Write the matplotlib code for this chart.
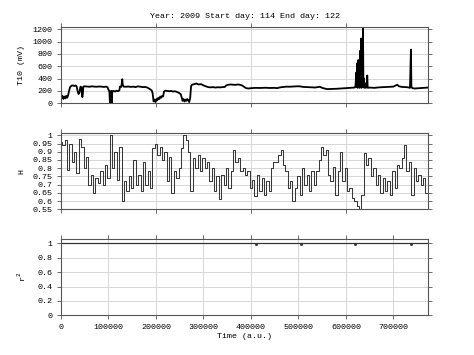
import numpy as np
import matplotlib
matplotlib.use("Agg")
import matplotlib.pyplot as plt

plt.rcParams["font.family"] = ["Liberation Mono", "DejaVu Sans Mono"]
plt.rcParams["font.size"] = 6

# T10 signal (time in units of 1000, value in mV)
t10_time = [0, 1, 3, 5, 7, 9, 11, 13, 15, 17, 19, 22, 25, 28, 31, 33, 35, 37, 39, 41,
            43, 44, 45, 46, 47, 50, 55, 60, 65, 70, 75, 80, 85, 90, 95, 98, 100, 102, 103, 104,
            106, 107, 108, 111, 114, 117, 120, 123, 124, 127, 129, 130, 132, 137, 142, 147, 152, 157, 162, 167,
            172, 177, 182, 185, 188, 191, 193, 195, 197, 199, 201, 203, 205, 207, 209, 211, 213, 215, 217, 220,
            224, 228, 232, 236, 240, 244, 248, 252, 254, 256, 258, 260, 262, 264, 266, 268, 270, 272, 274, 276,
            280, 285, 290, 295, 300, 305, 310, 315, 320, 325, 330, 335, 340, 345, 348, 352, 357, 362, 367, 372,
            377, 381, 385, 390, 395, 400, 410, 420, 430, 440, 450, 455, 460, 465, 470, 475, 480, 490, 500, 505,
            510, 520, 530, 535, 540, 545, 550, 555, 560, 570, 580, 590, 600, 610, 618, 620, 622, 623, 624, 625,
            626, 627, 628, 629, 630, 631, 632, 633, 634, 635, 636, 637, 638, 639, 640, 642, 644, 645, 646, 650,
            660, 670, 680, 690, 700, 705, 708, 712, 718, 725, 730, 735, 737, 738, 740, 745, 755, 765, 773]
t10_value = [230, 80, 120, 70, 110, 80, 120, 90, 130, 200, 260, 285, 290, 280, 290, 270, 200, 150, 180, 270,
             260, 140, 100, 150, 270, 275, 272, 268, 275, 270, 268, 272, 270, 265, 270, 260, 220, 190, 0, 190,
             200, 0, 195, 200, 190, 205, 195, 210, 270, 265, 390, 300, 270, 268, 272, 265, 270, 262, 275, 268,
             262, 265, 255, 240, 225, 210, 160, 30, 60, 20, 70, 50, 90, 70, 110, 90, 120, 110, 190, 205,
             200, 195, 200, 190, 195, 185, 170, 150, 100, 40, 70, 30, 60, 40, 70, 50, 20, 80, 280, 300,
             310, 320, 305, 310, 290, 275, 262, 258, 262, 255, 260, 258, 262, 265, 290, 300, 305, 302, 298, 305,
             300, 290, 270, 245, 240, 245, 250, 248, 252, 248, 250, 245, 255, 262, 265, 270, 268, 272, 276, 272,
             265, 262, 258, 255, 262, 268, 250, 240, 230, 232, 235, 240, 245, 250, 255, 260, 500, 260, 650, 250,
             700, 300, 600, 250, 850, 300, 1050, 250, 900, 300, 1250, 260, 400, 250, 330, 250, 300, 450, 250, 255,
             250, 258, 262, 265, 270, 290, 300, 275, 265, 262, 260, 250, 870, 270, 245, 240, 245, 250, 255]

# Hurst exponent H, one value every 5000 time units
h_time = list(range(0, 775, 5))
h_value = [0.96, 0.94, 0.97, 0.79, 0.95, 0.84, 0.90, 0.77, 0.98, 0.93, 0.80, 0.87, 0.70, 0.76, 0.65, 0.74,
           0.71, 0.78, 0.70, 0.82, 0.74, 1.00, 0.80, 0.90, 0.73, 0.93, 0.60, 0.72, 0.66, 0.75, 0.68, 0.85,
           0.70, 0.76, 0.66, 0.84, 0.70, 0.78, 0.68, 0.92, 0.95, 0.88, 0.93, 0.85, 0.90, 0.72, 0.87, 0.65,
           0.78, 0.74, 0.80, 0.92, 1.00, 0.97, 0.90, 0.66, 0.86, 0.80, 0.88, 0.78, 0.86, 0.80, 0.84, 0.72,
           0.80, 0.66, 0.75, 0.61, 0.76, 0.70, 0.80, 0.68, 0.78, 0.91, 0.84, 0.86, 0.78, 0.80, 0.76, 0.78,
           0.68, 0.73, 0.63, 0.76, 0.66, 0.74, 0.64, 0.72, 0.66, 0.80, 0.84, 0.84, 0.88, 0.91, 0.82, 0.78,
           0.68, 0.72, 0.60, 0.68, 0.75, 0.64, 0.80, 0.70, 0.76, 0.66, 0.78, 0.70, 0.78, 0.85, 0.93, 0.88,
           0.91, 0.76, 0.72, 0.81, 0.64, 0.78, 0.90, 0.72, 0.80, 0.66, 0.68, 0.62, 0.60, 0.57, 0.55, 0.64,
           0.89, 0.82, 0.86, 0.75, 0.80, 0.70, 0.76, 0.65, 0.74, 0.66, 0.72, 0.64, 0.78, 0.68, 0.82, 0.80,
           0.86, 0.94, 0.78, 0.84, 0.64, 0.80, 0.72, 0.76, 0.70, 0.74, 0.65]

# r^2 of the fit: constant 1 with a few marks slightly below
r2_time = [0, 773]
r2_value = [1.0, 1.0]
r2_mark_time = [410, 505, 620, 737]
r2_mark_value = [0.985, 0.985, 0.985, 0.985]

title = "Year: 2009 Start day: 114 End day: 122"
x_max = 773000

fig = plt.figure(figsize=(4.74, 3.55), dpi=100, facecolor="white")
left, width = 0.1287, 0.7743
ax1 = fig.add_axes([left, 0.709, width, 0.2158])
ax2 = fig.add_axes([left, 0.4104, width, 0.2141])
ax3 = fig.add_axes([left, 0.1118, width, 0.215])

frame = "#555555"
grid = "#d6d6d6"


def style(ax, xstep):
    ax.set_xlim(0, x_max)
    ax.set_xticks(np.arange(0, x_max, xstep))
    ax.grid(True, color=grid, linewidth=0.7)
    ax.set_axisbelow(True)
    ax.tick_params(direction="out", length=3, width=0.6, color=frame,
                   top=True, right=True, pad=3, labelsize=6)
    for s in ax.spines.values():
        s.set_color(frame)
        s.set_linewidth(0.8)


# top: T10
style(ax1, 200000)
ax1.plot(np.array(t10_time) * 1000, t10_value, color="black", linewidth=1.3)
ax1.set_ylim(0, 1240)
ax1.set_yticks(range(0, 1201, 200))
ax1.set_xticklabels([])
ax1.set_ylabel("T10 (mV)")
ax1.yaxis.set_label_coords(-0.098, 0.5)
ax1.set_title(title, fontsize=6, pad=6)

# middle: H
style(ax2, 200000)
ax2.plot(np.array(h_time) * 1000, h_value, color="#383838", linewidth=0.75,
         drawstyle="steps-mid")
ax2.set_ylim(0.55, 1.012)
ax2.set_yticks(np.arange(0.55, 1.001, 0.05))
ax2.set_yticklabels(["0.55", "0.6", "0.65", "0.7", "0.75", "0.8", "0.85", "0.9", "0.95", "1"])
ax2.set_xticklabels([])
ax2.set_ylabel("H")
ax2.yaxis.set_label_coords(-0.098, 0.5)

# bottom: r^2
style(ax3, 100000)
ax3.plot(np.array(r2_time) * 1000, r2_value, color="#333333", linewidth=0.9)
ax3.plot(np.array(r2_mark_time) * 1000, r2_mark_value, "s", color="#333333", markersize=1)
ax3.set_ylim(0, 1.06)
ax3.set_yticks(np.arange(0, 1.01, 0.2))
ax3.set_yticklabels(["0", "0.2", "0.4", "0.6", "0.8", "1"])
ax3.set_xticklabels([str(v) for v in range(0, 700001, 100000)])
ax3.set_ylabel("r$^2$")
ax3.yaxis.set_label_coords(-0.09, 0.5)
ax3.set_xlabel("Time (a.u.)", labelpad=2)

fig.savefig("out.png", dpi=100, facecolor="white")
